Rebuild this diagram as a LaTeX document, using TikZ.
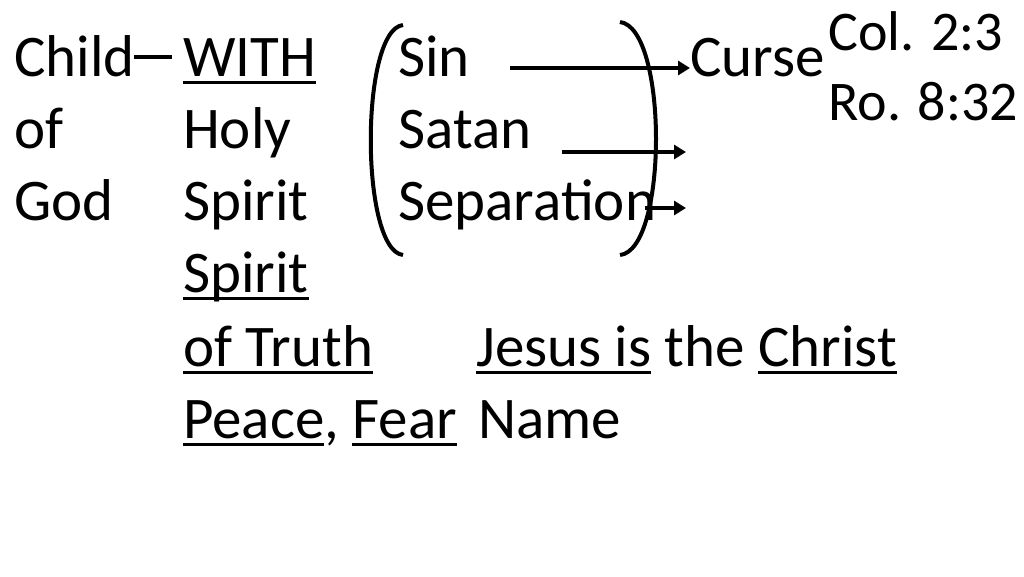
\documentclass[tikz,border=0pt]{standalone}
\usepackage{fontspec}
\setmainfont{Carlito}
\newcommand\uln[1]{\setbox0\hbox{#1}\rlap{\rule[-8pt]{\wd0}{3pt}}\box0\relax}
\usetikzlibrary{arrows.meta}
\tikzset{
    txt/.style={anchor=base west, inner sep=0pt, font=\fontsize{59}{70}\selectfont},
    ref/.style={txt, font=\fontsize{56}{66}\selectfont},
    bar/.style={line width=4pt},
    arr/.style={line width=4pt, -{Triangle[length=12pt,width=14pt]}}
}
\begin{document}
\begin{tikzpicture}[x=1pt, y=-1pt]
    \useasboundingbox (0,0) rectangle (1024,576);
    % left column
    \node[txt] (child) at (14,76) {Child};
    \node[txt] at (14,148) {of};
    \node[txt] at (14,220) {God};
    \draw[bar] (134,57) -- (172,57);
    % with column
    \node[txt] (with) at (183,76) {\uln{WITH}};
    \node[txt] at (183,148) {Holy};
    \node[txt] at (183,220) {Spirit};
    \node[txt] at (183,292) {\uln{Spirit}};
    \node[txt] at (183,366) {\uln{of Truth}};
    \node[txt] at (183,438) {\uln{Peace}, \uln{Fear}};
    % bracket group
    \draw[bar] (403,25) .. controls (360,30) and (360,250) .. (403,255);
    \draw[bar] (620,22) .. controls (668,28) and (668,250) .. (620,255);
    \node[txt] (sin) at (398,76) {Sin};
    \node[txt] (satan) at (398,148) {Satan};
    \node[txt] (sep) at (398,220) {Separation};
    \node[txt] (curse) at (690,76) {Curse};
    \coordinate (c1) at (510,68);
    \coordinate (c2) at (562,152);
    \coordinate (c3) at (686,152);
    \coordinate (c4) at (645,208);
    \coordinate (c5) at (686,208);
    \draw[arr] (c1) -- (curse.west |- c1);
    \draw[arr] (c2) -- (c3);
    \draw[arr] (c4) -- (c5);
    % references
    \node[ref] at (828,50) {Col. 2:3};
    \node[ref] at (828,120) {Ro. 8:32};
    % bottom
    \node[txt] at (476,366) {\uln{Jesus is} the \uln{Christ}};
    \node[txt] at (478,438) {Name};
\end{tikzpicture}
\end{document}
